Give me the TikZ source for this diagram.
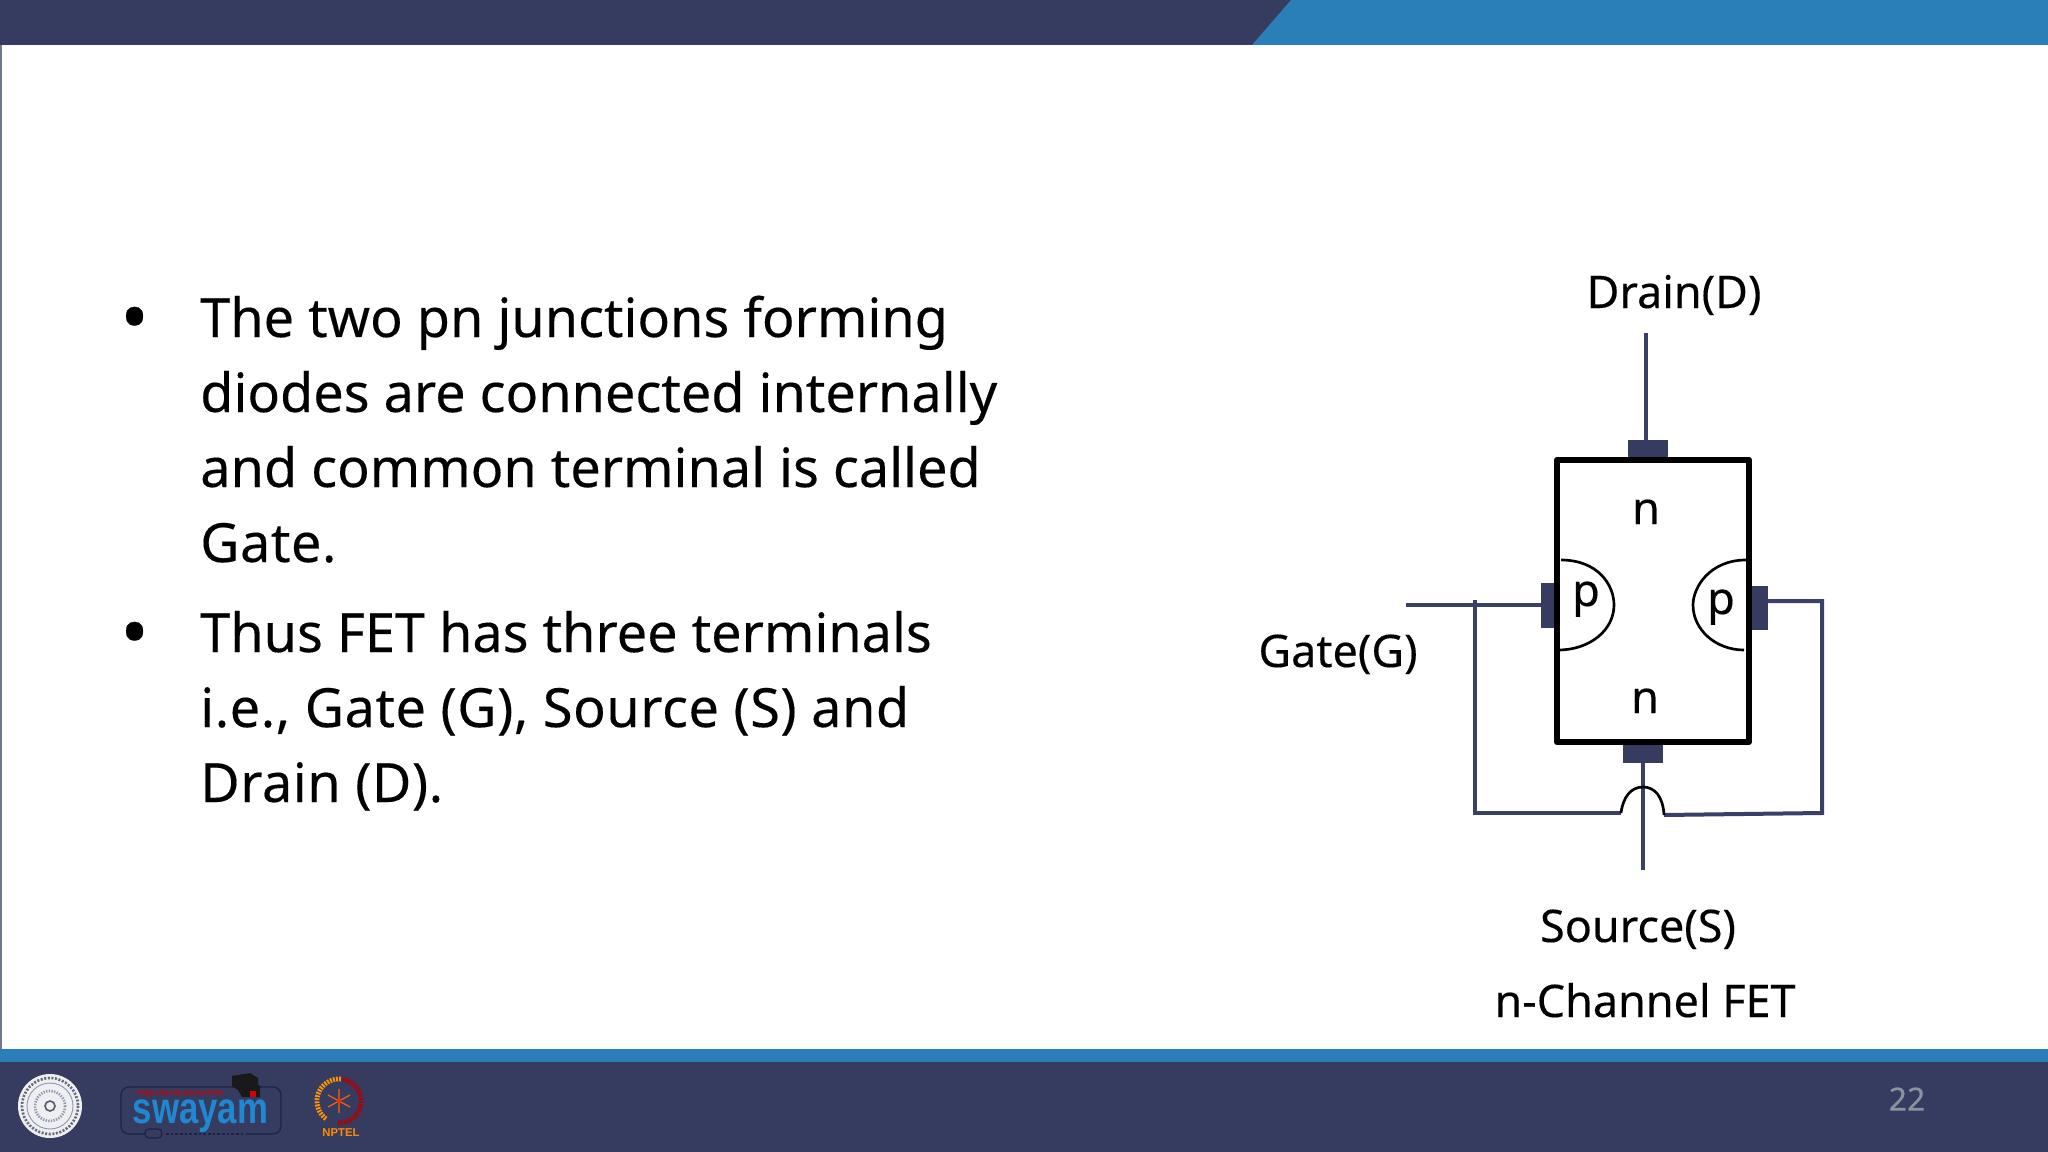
\documentclass[tikz,border=0pt]{standalone}
\usepackage{fontspec}
\setmainfont{Noto Sans}[FakeBold=0.25]
\newfontfamily\logofont{Liberation Sans}
\definecolor{navy}{HTML}{353C60}
\definecolor{bluebar}{HTML}{2A7FB8}
\definecolor{wire}{HTML}{3A4068}
\definecolor{pagenum}{HTML}{8B93A0}
\definecolor{logoline}{HTML}{1C2244}
\definecolor{swblue}{HTML}{2088D2}
\definecolor{sealgrey}{HTML}{8E9AB0}
\tikzset{
  x=0.75pt,y=-0.75pt,
  body/.style={font=\fontsize{40.5}{56}\selectfont,anchor=base west,inner sep=0pt,text=black},
  bodywide/.style={font=\fontsize{40.5}{56}\addfontfeature{LetterSpace=1.0}\selectfont,anchor=base west,inner sep=0pt,text=black},
  bullet/.style={font=\fontsize{57}{57}\selectfont,anchor=base west,inner sep=0pt,text=black},
  lab/.style={font=\fontsize{33.7}{40}\selectfont,anchor=base,inner sep=0pt,text=black},
  pad/.style={fill=navy,draw=none},
  wirel/.style={draw=wire,line width=3pt},
  bodyframe/.style={draw=black,line width=4.5pt,line join=round},
  thin arc/.style={draw=black,line width=2pt},
}
\begin{document}
\begin{tikzpicture}
\useasboundingbox (0,0) rectangle (2048,1152);
\fill[white] (0,0) rectangle (2048,1152);
% top band
\fill[navy] (0,0) rectangle (1300,45);
\fill[bluebar] (1291,0) -- (2048,0) -- (2048,45) -- (1252,45) -- cycle;
% left edge
\fill[navy!70!white] (0,45) rectangle (1.5,1050);
% bottom band
\fill[navy] (0,1060) rectangle (2048,1152);
\fill[bluebar] (0,1049) rectangle (2048,1062);
% text
\node[bullet] (b1) at (120,344) {•};
\node[body] (l1) at (200,337) {The two pn junctions forming};
\node[body] (l2) at (200,412) {diodes are connected internally};
\node[body] (l3) at (200,487) {and common terminal is called};
\node[bodywide] (l4) at (200,562) {Gate.};
\node[bullet] (b2) at (120,659) {•};
\node[body] (l5) at (200,652) {Thus FET has three terminals};
\node[bodywide] (l6) at (200,727) {i.e., Gate (G), Source (S) and};
\node[bodywide] (l7) at (200,802) {Drain (D).};
% FET
\coordinate (dt) at (1646,333);
\coordinate (dpad) at (1646,440);
\coordinate (gl) at (1406,605);
\coordinate (gpad) at (1542,605);
\coordinate (gj) at (1475,600);
\coordinate (gc) at (1475,813);
\coordinate (al) at (1621,813);
\coordinate (ar) at (1664,815);
\coordinate (rc) at (1822,813);
\coordinate (rt) at (1822,601);
\coordinate (rpad) at (1767,601);
\coordinate (sb) at (1643,870);
\coordinate (spad) at (1643,760);
\draw[wirel] (dt) -- (dpad);
\draw[wirel] (gl) -- (gpad);
\draw[wirel] (gj) -- (gc) -- (al);
\draw[wirel] (ar) -- (rc) -- (rt) -- (rpad);
\draw[wirel] (spad) -- (sb);
\draw[thin arc] (al) .. controls (1623,797) and (1631,787) .. (1643,787) .. controls (1655,787) and (1663,797) .. (ar);
\fill[pad] (1628,440) rectangle (1668,458);
\fill[pad] (1623,744) rectangle (1663,763);
\fill[pad] (1541,583) rectangle (1559,628);
\fill[pad] (1752,586) rectangle (1768,630);
\draw[bodyframe] (1557,460) rectangle (1749,742);
\draw[thin arc] (1561,560) .. controls (1598,560) and (1614,585) .. (1614,605) .. controls (1614,630) and (1590,650) .. (1558,650);
\draw[thin arc] (1746,560) .. controls (1710,560) and (1693,587) .. (1693,605) .. controls (1693,630) and (1716,650) .. (1744,650);
\node[lab] (n1) at (1646,524) {n};
\node[lab] (n2) at (1645,713) {n};
\node[lab] (p1) at (1586,606) {p};
\node[lab] (p2) at (1721,614) {p};
\node[lab] (drain) at (1674,308) {Drain(D)};
\node[lab] (gate) at (1338,667) {Gate(G)};
\node[lab] (source) at (1638,942) {Source(S)};
\node[lab] (chan) at (1645,1017) {n-Channel FET};
% seal logo
\fill[white!92!navy] (50,1106) circle (32);
\draw[sealgrey!70!black,line width=2pt,dash pattern=on 1.5pt off 1.2pt] (50,1106) circle (28);
\draw[sealgrey,line width=0.7pt] (50,1106) circle (23);
\draw[sealgrey,line width=2pt,dash pattern=on 1pt off 1pt] (50,1106) circle (15);
\draw[sealgrey!60!black,line width=1.2pt] (50,1106) circle (5);
% swayam logo
\draw[logoline,line width=0.9pt,rounded corners=6pt] (145,1134) -- (121,1134) -- (121,1087) -- (281,1087) -- (281,1134) -- (246,1134);
\draw[logoline,line width=0.9pt,rounded corners=3pt] (145,1129) rectangle (162,1138);
\draw[logoline,line width=1.5pt,dash pattern=on 2pt off 1.5pt] (166,1134) -- (243,1134);
\node[font=\logofont\bfseries\fontsize{33}{33}\selectfont,text=swblue,inner sep=0pt,anchor=base,xscale=0.79] (sw) at (200.5,1123) {swayam};
\node[font=\logofont\bfseries\fontsize{5}{5}\selectfont,text=red!80!black,inner sep=0pt] (free) at (180,1093) {FREE ONLINE EDUCATION};
\fill[black!90] (232,1076) -- (250,1073) -- (258,1078) -- (258,1084) -- (260,1086) -- (260,1097) -- (242,1097) -- (238,1090) -- (232,1086) -- cycle;
\fill[red!85!black] (250,1091) rectangle (256,1097);
% NPTEL logo
\draw[orange!85!yellow,line width=3.6pt,dash pattern=on 1.4pt off 0.9pt] plot[domain=85:235,samples=40] ({339+22*cos(\x)},{1101-22*sin(\x)});
\draw[red!70!black,line width=3.6pt,dash pattern=on 1.4pt off 0.9pt] plot[domain=80:-95,samples=40] ({339+22*cos(\x)},{1101-22*sin(\x)});
\draw[orange!75!red,line width=0.9pt] (339,1089) -- (339,1113) (328,1095) -- (350,1107) (350,1095) -- (328,1107);
\fill[red!70!orange] (339,1101) circle (2);
\node[font=\logofont\bfseries\fontsize{8.5}{8.5}\selectfont,text=orange!90!yellow,inner sep=0pt] (nptel) at (341,1133) {NPTEL};
\node[font=\fontsize{24}{24}\selectfont,text=pagenum,inner sep=0pt] (pg) at (1907,1099) {22};
\end{tikzpicture}
\end{document}
